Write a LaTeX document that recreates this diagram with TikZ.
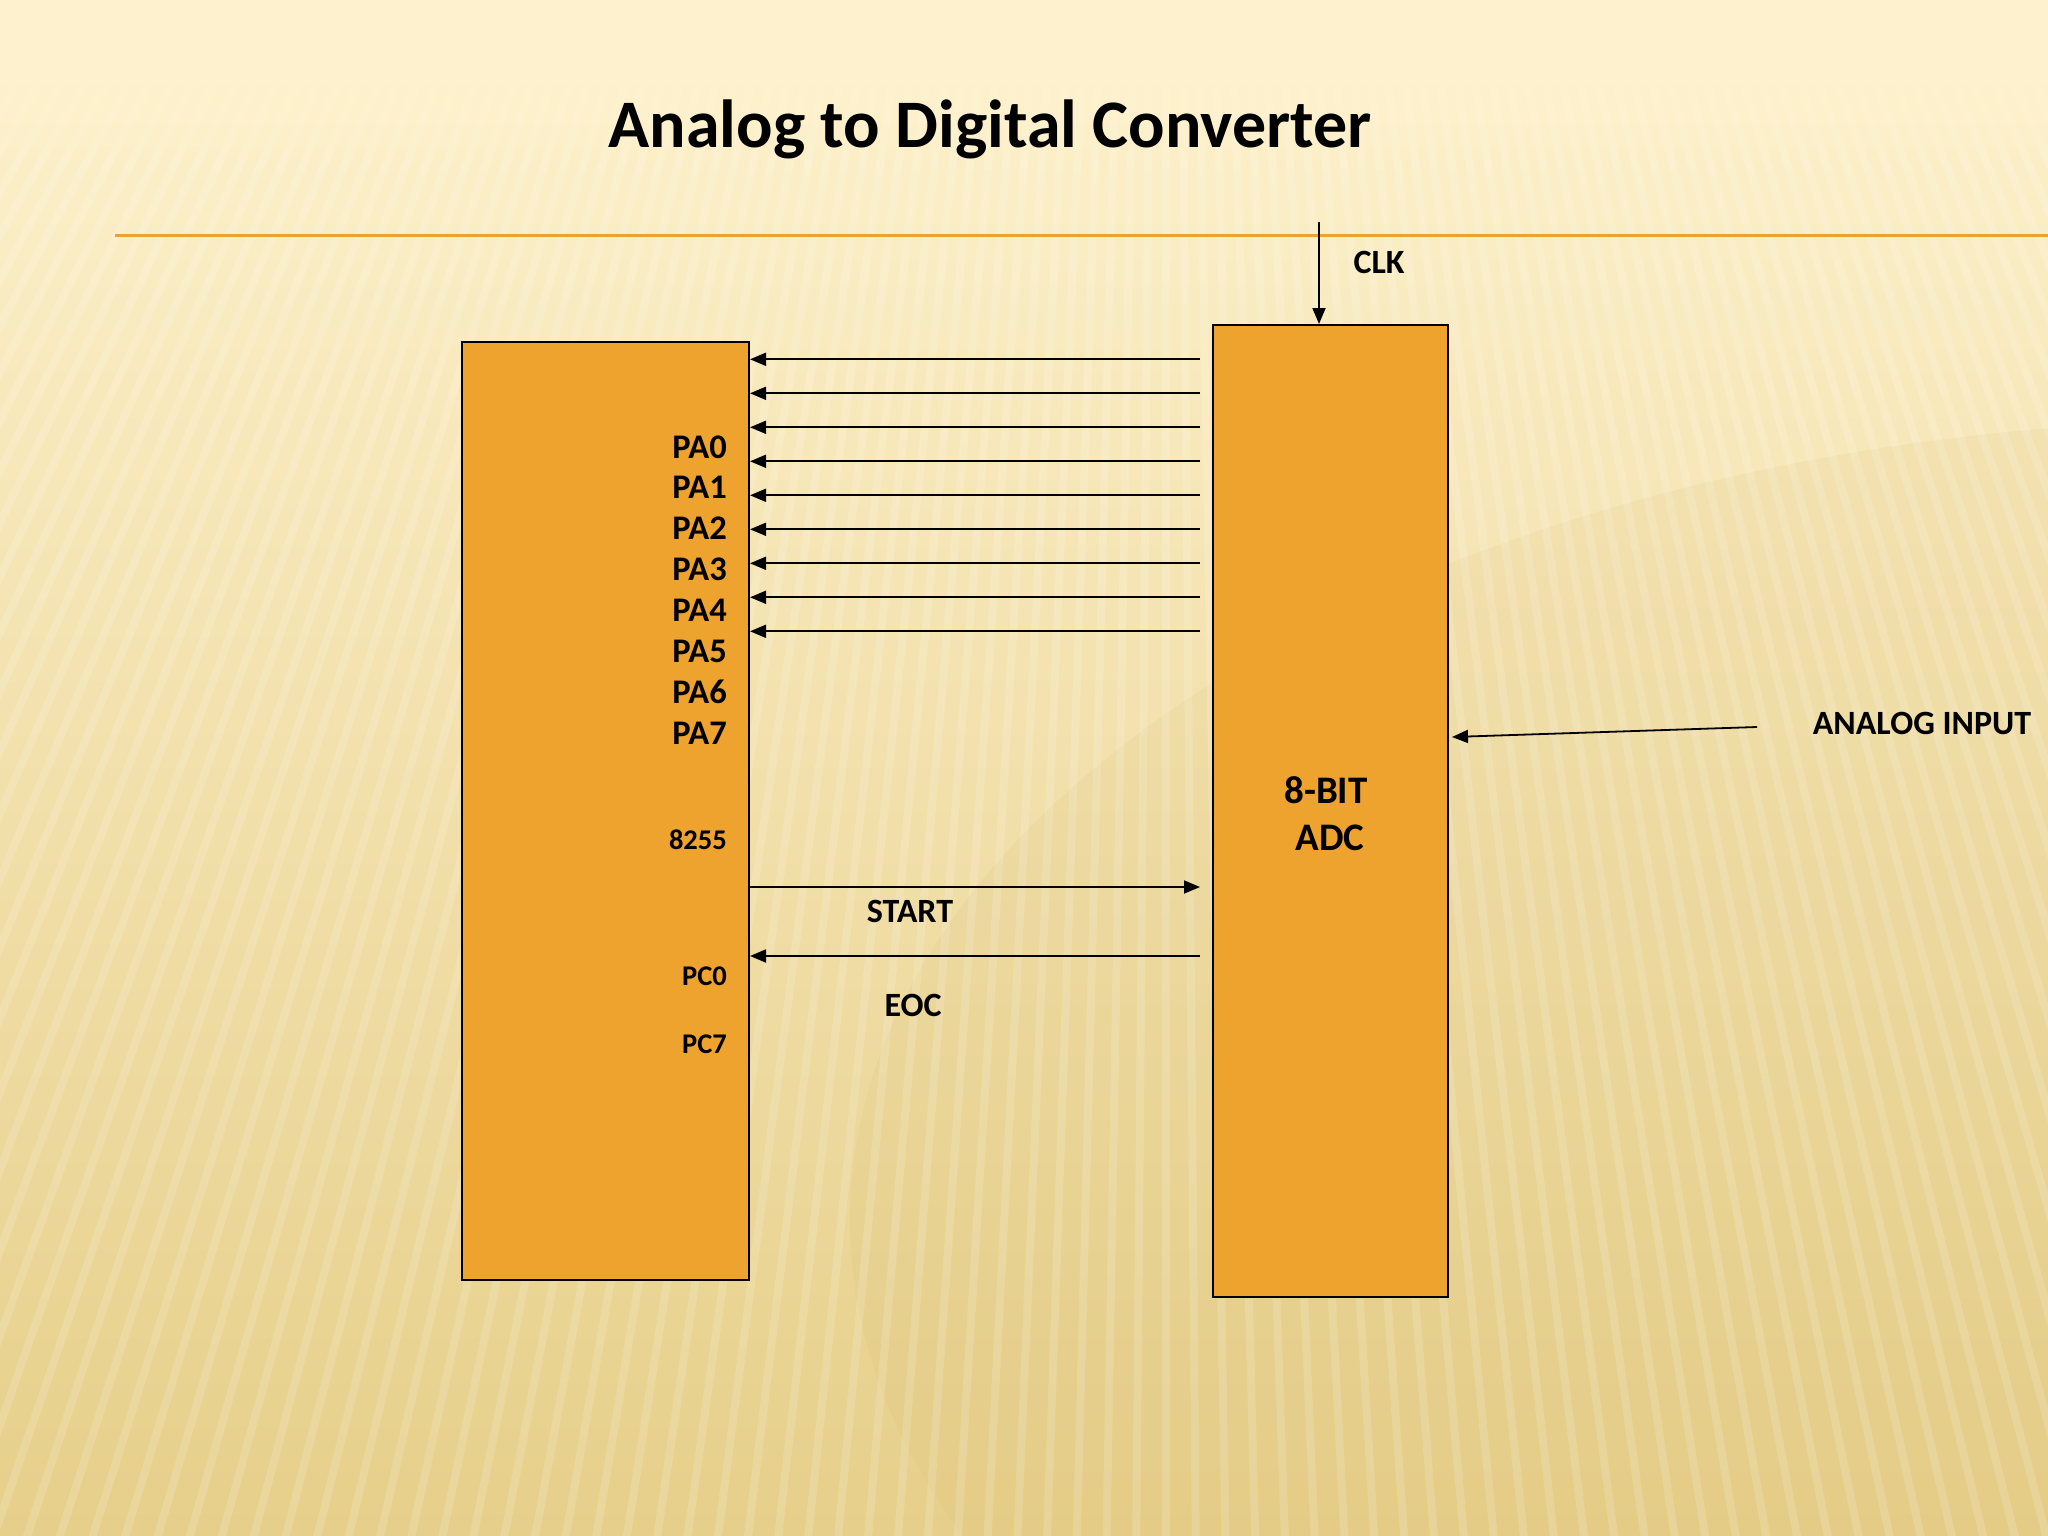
\documentclass[tikz,border=0pt]{standalone}
\usepackage{fontspec}
\setmainfont{Carlito}
\usetikzlibrary{arrows.meta}
\definecolor{bgtop}{RGB}{254,242,206}
\definecolor{bgmid}{RGB}{250,232,180}
\definecolor{bgbot}{RGB}{230,207,138}
\definecolor{bgdark}{RGB}{215,185,110}
\definecolor{boxorange}{RGB}{239,163,47}
\definecolor{lineorange}{RGB}{238,160,50}
\tikzset{
  blockbox/.style={draw=black, line width=2pt, fill=boxorange, inner sep=0pt, anchor=north west},
  arr/.style={line width=1.8pt, -{Triangle[length=16pt,width=13pt]}},
  lbl/.style={inner sep=0pt, font=\bfseries\fontsize{34}{37}\selectfont},
  palbl/.style={inner sep=0pt, anchor=base east, font=\bfseries\fontsize{34.5}{37}\selectfont},
  smlbl/.style={inner sep=0pt, anchor=base east, font=\bfseries\fontsize{28.5}{31}\selectfont},
  biglbl/.style={inner sep=0pt, anchor=base, font=\bfseries\fontsize{39}{42}\selectfont},
}
\begin{document}
\begin{tikzpicture}[x=1pt,y=-1pt]
\useasboundingbox (0,0) rectangle (2048,1536);
% background
\shade[top color=bgtop, middle color=bgmid, bottom color=bgbot] (0,0) rectangle (2048,1536);
\begin{scope}
  \clip (0,0) rectangle (2048,1536);
  \fill[bgdark, opacity=0.12] (2250,1220) ellipse [x radius=1400, y radius=800];
  \foreach \a in {62,62.5,...,124} {
    \draw[white, opacity=0.15, line width=8pt] (1166,-1868) -- ++(\a:4000);
  }
\end{scope}
\fill[bgtop] (0,0) rectangle (2048,80);
\foreach \i in {0,...,19} {
  \fill[bgtop, opacity={1-\i/20}] (0,80+\i*4) rectangle (2048,84+\i*4);
}
% title and rule
\node[anchor=base, inner sep=0pt, font=\bfseries\fontsize{68}{72}\selectfont] (title) at (990,148) {Analog to Digital Converter};
\coordinate (ruleL) at (115,235);
\coordinate (ruleR) at (2048,235);
\draw[lineorange, line width=3pt] (ruleL) -- (ruleR);
% blocks
\node[blockbox, minimum width=287pt, minimum height=938pt] (p8255) at (461,341) {};
\node[blockbox, minimum width=235pt, minimum height=972pt] (adc) at (1212,324) {};
% data lines
\foreach \i in {0,...,8} {
  \coordinate (d\i) at (1200,{359.3+34*\i});
  \draw[arr] (d\i) -- (d\i -| p8255.east);
}
% port labels
\foreach \t [count=\i from 0] in {PA0,PA1,PA2,PA3,PA4,PA5,PA6,PA7} {
  \node[palbl] (pa\i) at (727,{458+40.9*\i}) {\t};
}
\node[smlbl] (chip) at (727,849) {8255};
\node[smlbl] (pc0) at (727,985) {PC0};
\node[smlbl] (pc7) at (727,1053) {PC7};
% start / eoc
\coordinate (st) at (1200,887);
\draw[arr] (st -| p8255.east) -- (st);
\node[lbl, anchor=base] (startlbl) at (910,922) {START};
\coordinate (eoc) at (1200,956);
\draw[arr] (eoc) -- (eoc -| p8255.east);
\node[lbl, anchor=base] (eoclbl) at (913,1016) {EOC};
% clock
\coordinate (clkin) at (1319,222);
\draw[arr] (clkin) -- (clkin |- adc.north);
\node[lbl, anchor=base] (clklbl) at (1379,273) {CLK};
% analog input
\coordinate (ain) at (1757,727);
\draw[arr] (ain) -- ([xshift=3pt,yshift=-413pt]adc.north east);
\node[lbl, anchor=base] (ainlbl) at (1922,734) {ANALOG INPUT};
% adc label
\node[biglbl] (adc1) at (1326,803) {8-BIT};
\node[biglbl] (adc2) at (1330,850) {ADC};
\end{tikzpicture}
\end{document}
